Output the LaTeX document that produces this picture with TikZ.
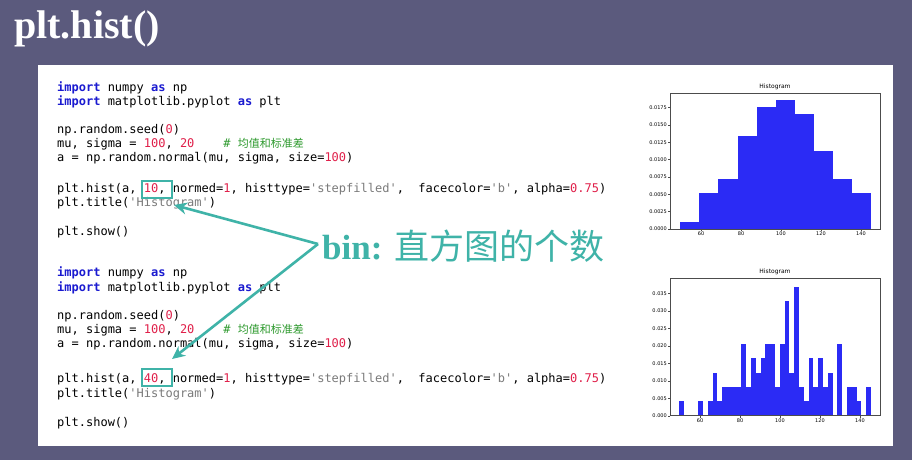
\documentclass[tikz,border=0pt]{standalone}
\usepackage{fontspec}
\usetikzlibrary{arrows.meta}
\setmainfont{Liberation Serif}
\newfontfamily\codefont{DejaVu Sans Mono}
\newfontfamily\cjk{Noto Sans CJK SC}
\newfontfamily\tickfont{DejaVu Sans}
\definecolor{bgc}{HTML}{5B5A7D}
\definecolor{teal}{HTML}{3FB3A8}
\definecolor{kw}{HTML}{1A1AD0}
\definecolor{num}{HTML}{E0204A}
\definecolor{strc}{HTML}{7A7A7A}
\definecolor{cmt}{HTML}{2E9A2E}
\definecolor{barc}{HTML}{2B2BF5}
\newcommand{\K}[1]{\textcolor{kw}{\bfseries #1}}
\newcommand{\N}[1]{\textcolor{num}{#1}}
\newcommand{\Sq}[1]{\textcolor{strc}{'#1'}}
\newcommand{\C}[1]{\textcolor{cmt}{\#\ {\cjk\fontsize{11}{12}\selectfont #1}}}
\begin{document}
\begin{tikzpicture}[x=1pt,y=-1pt,
  code/.style={anchor=base west,inner sep=0pt,font=\codefont\fontsize{12}{14}\selectfont},
  tick/.style={inner sep=1pt,font=\tickfont\fontsize{5}{6}\selectfont},
  bar/.style={fill=barc,draw=none},
  pointer/.style={teal,line width=2.6pt,-{Stealth[length=13pt,width=12pt]}}]
\useasboundingbox (0,0) rectangle (912,460);
\fill[bgc] (0,0) rectangle (912,460);
\node[anchor=base west,inner sep=0pt,text=white,font=\bfseries\fontsize{40}{44}\selectfont] (title) at (14,39) {plt.hist()};
\fill[white] (38,65) rectangle (893,446);
% code block 1
\node[code] (a1) at (57,91) {\K{import} numpy \K{as} np};
\node[code] (a2) at (57,105) {\K{import} matplotlib.pyplot \K{as} plt};
\node[code] (a3) at (57,133) {np.random.seed(\N{0})};
\node[code] (a4) at (57,147) {mu, sigma = \N{100}, \N{20}\ \ \ \ \C{均值和标准差}};
\node[code] (a5) at (57,161) {a = np.random.normal(mu, sigma, size=\N{100})};
\node[code] (a6) at (57,192) {plt.hist(a, \N{10}, normed=\N{1}, histtype=\Sq{stepfilled},\ \ facecolor=\Sq{b}, alpha=\N{0.75})};
\node[code] (a7) at (57,206) {plt.title(\Sq{Histogram})};
\node[code] (a8) at (57,235) {plt.show()};
% code block 2
\node[code] (b1) at (57,276) {\K{import} numpy \K{as} np};
\node[code] (b2) at (57,291) {\K{import} matplotlib.pyplot \K{as} plt};
\node[code] (b3) at (57,319) {np.random.seed(\N{0})};
\node[code] (b4) at (57,333) {mu, sigma = \N{100}, \N{20}\ \ \ \ \C{均值和标准差}};
\node[code] (b5) at (57,347) {a = np.random.normal(mu, sigma, size=\N{100})};
\node[code] (b6) at (57,382) {plt.hist(a, \N{40}, normed=\N{1}, histtype=\Sq{stepfilled},\ \ facecolor=\Sq{b}, alpha=\N{0.75})};
\node[code] (b7) at (57,397) {plt.title(\Sq{Histogram})};
\node[code] (b8) at (57,426) {plt.show()};
% boxes
\draw[teal,line width=1.5pt] (142,181) rectangle (172,198);
\draw[teal,line width=1.5pt] (142,369) rectangle (172,386);
% label and pointers
\node[anchor=west,inner sep=0pt,text=teal,font=\bfseries\fontsize{35}{38}\selectfont] (lab) at (322,246) {bin: {\cjk\mdseries 直方图的个数}};
\coordinate (j) at (318,244);
\draw[pointer] (j) -- (174,205);
\draw[pointer] (j) -- (172,359);
% histogram 1
\node[tick,font=\tickfont\fontsize{6}{7}\selectfont] (h1t) at (775,87) {Histogram};
\foreach \l/\r/\h in {680/699.3/0.42,699.3/718.3/2.06,718.3/737.7/2.88,737.7/757/5.37,757/775.7/7.02,775.7/794.7/7.44,794.7/814/6.62,814/833/4.52,833/852/2.88,852/871/2.06}
  \fill[bar] (\l,229) rectangle (\r,229-17.33*\h);
\draw[black!70,line width=0.5pt] (670,93) rectangle (880,229);
\foreach \v in {60,80,100,120,140}{
  \draw[black!70,line width=0.4pt] (701+2*\v-120,229) -- ++(0,2);
  \node[tick,anchor=north] at (701+2*\v-120,231) {\v};}
\foreach \i/\t in {0/0.0000,1/0.0025,2/0.0050,3/0.0075,4/0.0100,5/0.0125,6/0.0150,7/0.0175}{
  \draw[black!70,line width=0.4pt] (670,229-17.33*\i) -- ++(-2,0);
  \node[tick,anchor=east] at (668,229-17.33*\i) {\t};}
% histogram 2
\node[tick,font=\tickfont\fontsize{6}{7}\selectfont] (h2t) at (775,272) {Histogram};
\foreach \c [count=\i from 0] in {1,0,0,0,1,0,1,3,1,2,2,2,2,5,2,4,3,4,5,5,2,5,8,3,9,2,1,4,2,4,2,3,0,5,0,2,2,1,0,2}{
  \ifnum\c>0 \fill[bar] (679+4.8*\i,415.7) rectangle (679+4.8*\i+4.8,415.7-14.35*\c);\fi}
\draw[black!70,line width=0.5pt] (670,278) rectangle (880,415.7);
\foreach \v in {60,80,100,120,140}{
  \draw[black!70,line width=0.4pt] (700+2*\v-120,415.7) -- ++(0,2);
  \node[tick,anchor=north] at (700+2*\v-120,417.7) {\v};}
\foreach \i/\t in {0/0.000,1/0.005,2/0.010,3/0.015,4/0.020,5/0.025,6/0.030,7/0.035}{
  \draw[black!70,line width=0.4pt] (670,415.7-17.5*\i) -- ++(-2,0);
  \node[tick,anchor=east] at (668,415.7-17.5*\i) {\t};}
\end{tikzpicture}
\end{document}
